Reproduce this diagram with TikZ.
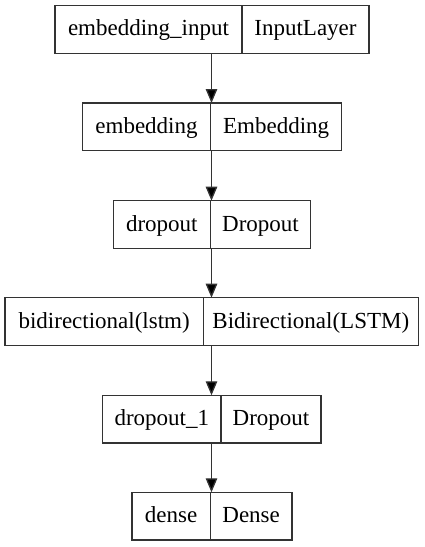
\documentclass[tikz,border=0pt]{standalone}
\usepackage{fontspec}
\setmainfont{Liberation Serif}
\usetikzlibrary{arrows.meta}
\tikzset{
  cell/.style={draw=black!80, line width=1.1pt, inner sep=0pt, anchor=center,
    text height=17pt, text depth=4.4pt,
    font=\fontsize{23}{26}\selectfont},
  conn/.style={draw=black!80, line width=1.3pt, -{Triangle[length=14pt,width=11.5pt,fill=black]}},
}
\newcommand{\mylayer}[8]{%
  \node[cell, minimum width={(#3-#2)*1pt}, minimum height={(#6-#5)*1pt}]
    (#1l) at ({(#2+#3)/2*1pt},{-(#5+#6)/2*1pt}) {#7};
  \node[cell, minimum width={(#4-#3)*1pt}, minimum height={(#6-#5)*1pt}]
    (#1r) at ({(#3+#4)/2*1pt},{-(#5+#6)/2*1pt}) {#8};
  \coordinate (#1t) at ({211.5pt},{-#5*1pt});
  \coordinate (#1b) at ({211.5pt},{-#6*1pt});
}
\begin{document}
\begin{tikzpicture}
\useasboundingbox (0,0) rectangle (424pt,-547pt);
\mylayer{a}{55}{242}{369}{5.5}{53.3}{embedding\_input}{InputLayer}
\mylayer{b}{82.3}{210.7}{341.7}{103}{150.7}{embedding}{Embedding}
\mylayer{c}{113.3}{210.3}{310.7}{200.7}{248.7}{dropout}{Dropout}
\mylayer{d}{5}{203.3}{418.3}{297.7}{345.7}{bidirectional(lstm)}{Bidirectional(LSTM)}
\mylayer{e}{102.7}{221}{321}{395.3}{443}{dropout\_1}{Dropout}
\mylayer{f}{132}{210.3}{292}{492.3}{540}{dense}{Dense}
\draw[conn] (ab) -- (bt);
\draw[conn] (bb) -- (ct);
\draw[conn] (cb) -- (dt);
\draw[conn] (db) -- (et);
\draw[conn] (eb) -- (ft);
\end{tikzpicture}
\end{document}
